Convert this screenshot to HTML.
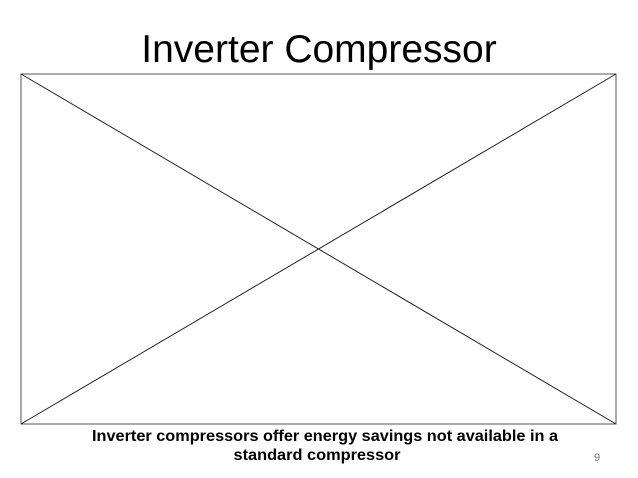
<!DOCTYPE html>
<html><head><meta charset="utf-8"><style>
html,body{margin:0;padding:0;background:#fff;}
svg{display:block;}
</style></head><body>
<svg width="638" height="478" viewBox="0 0 638 478" xmlns="http://www.w3.org/2000/svg">
<rect x="0" y="0" width="638" height="478" fill="#fff"/>
<text x="319" y="62" text-anchor="middle" font-family="Liberation Sans, Arial, sans-serif" font-size="39" fill="#000">Inverter Compressor</text>
<rect x="21" y="74" width="595" height="350" fill="none" stroke="#555" stroke-width="1"/>
<line x1="21" y1="74" x2="616" y2="424" stroke="#222" stroke-width="1"/>
<line x1="616" y1="74" x2="21" y2="424" stroke="#222" stroke-width="1"/>
<text x="325" y="441" text-anchor="middle" font-family="Liberation Sans, Arial, sans-serif" font-size="16" font-weight="bold" fill="#000" textLength="466" lengthAdjust="spacingAndGlyphs">Inverter compressors offer energy savings not available in a</text>
<text x="317" y="460" text-anchor="middle" font-family="Liberation Sans, Arial, sans-serif" font-size="16" font-weight="bold" fill="#000" textLength="167" lengthAdjust="spacingAndGlyphs">standard compressor</text>
<text x="597" y="461" text-anchor="middle" font-family="Liberation Sans, Arial, sans-serif" font-size="11" fill="#777">9</text>
</svg>
</body></html>
